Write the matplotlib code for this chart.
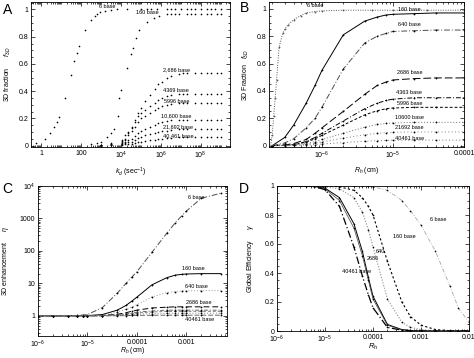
import numpy as np
import matplotlib
matplotlib.use("Agg")
import matplotlib.pyplot as plt
from matplotlib.ticker import LogLocator, MultipleLocator, NullFormatter

plt.rcParams['font.family'] = ['Liberation Sans', 'DejaVu Sans']
plt.rcParams['mathtext.fontset'] = 'custom'
plt.rcParams['mathtext.rm'] = 'Liberation Sans'
plt.rcParams['mathtext.it'] = 'Liberation Sans:italic'

# ---------------- Panel A data (k_d in 1/s, 3D fraction) ----------------
kdA_6 = [0.56, 1.5, 2.8, 4.5, 6.0, 7.6, 14.8, 30, 45, 60, 76, 158, 300, 470, 600, 850,
         1600, 3200, 6300, 2.0e4, 1.0e5, 2.0e5, 3.2e5, 6.3e5, 2.0e6, 3.2e6, 5.0e6, 1.0e7,
         2.0e7, 3.2e7, 5.0e7, 1.0e8, 2.0e8, 3.2e8, 5.0e8, 1.0e9]
fA_6 = [0.02, 0.05, 0.095, 0.14, 0.175, 0.21, 0.35, 0.52, 0.62, 0.68, 0.73, 0.85, 0.92,
        0.955, 0.97, 0.985, 0.99, 0.995, 1.0, 1.0, 1.0, 1.0, 1.0, 1.0, 1.0, 1.0, 1.0, 1.0,
        1.0, 1.0, 1.0, 1.0, 1.0, 1.0, 1.0, 1.0]
kdA_160 = [320, 630, 1000, 2000, 3200, 4700, 7400, 7900, 9500, 2.0e4, 3.0e4, 3.8e4, 5.9e4,
           7.9e4, 2.0e5, 4.5e5, 7.9e5, 2.0e6, 3.2e6, 5.0e6, 7.9e6, 2.0e7, 3.2e7, 5.0e7,
           1.0e8, 2.0e8, 3.2e8, 6.3e8, 1.0e9]
fA_160 = [0.01, 0.02, 0.03, 0.06, 0.09, 0.12, 0.215, 0.35, 0.405, 0.57, 0.67, 0.72, 0.79,
          0.85, 0.905, 0.935, 0.955, 0.965, 0.965, 0.97, 0.97, 0.97, 0.97, 0.97, 0.97,
          0.97, 0.97, 0.97, 0.97]
kdA_big = [1000, 3000, 1.1e4, 1.5e4, 2.3e4, 3.4e4, 5.0e4, 7.4e4, 1.0e5, 1.6e5, 2.8e5,
           5.0e5, 7.4e5, 1.1e6, 2.0e6, 3.2e6, 7.9e6, 1.3e7, 2.0e7, 5.0e7, 1.0e8, 2.0e8,
           3.2e8, 6.3e8, 1.0e9]
fA_2686 = [0.005, 0.02, 0.045, 0.075, 0.1, 0.14, 0.19, 0.24, 0.28, 0.325, 0.37, 0.415,
           0.454, 0.47, 0.5, 0.515, 0.525, 0.53, 0.53, 0.53, 0.53, 0.53, 0.53, 0.53, 0.53]
fA_4369 = [0.004, 0.015, 0.035, 0.05, 0.09, 0.13, 0.17, 0.215, 0.24, 0.264, 0.29, 0.315,
           0.337, 0.35, 0.365, 0.372, 0.378, 0.38, 0.38, 0.38, 0.38, 0.38, 0.38, 0.38, 0.38]
fA_5996 = [0.003, 0.012, 0.03, 0.045, 0.075, 0.11, 0.14, 0.175, 0.2, 0.22, 0.24, 0.26,
           0.28, 0.29, 0.3, 0.305, 0.31, 0.31, 0.31, 0.31, 0.31, 0.31, 0.31, 0.31, 0.31]
fA_10600 = [0.002, 0.008, 0.02, 0.03, 0.04, 0.05, 0.07, 0.09, 0.105, 0.12, 0.14, 0.15,
            0.165, 0.17, 0.18, 0.185, 0.19, 0.19, 0.19, 0.19, 0.19, 0.19, 0.19, 0.19, 0.19]
fA_21692 = [0.001, 0.005, 0.012, 0.018, 0.025, 0.03, 0.04, 0.055, 0.065, 0.075, 0.085,
            0.09, 0.1, 0.105, 0.11, 0.115, 0.12, 0.12, 0.12, 0.12, 0.12, 0.12, 0.12, 0.12, 0.12]
fA_40461 = [0.0, 0.003, 0.006, 0.009, 0.012, 0.015, 0.02, 0.025, 0.03, 0.035, 0.04, 0.042,
            0.048, 0.05, 0.055, 0.058, 0.06, 0.06, 0.06, 0.06, 0.06, 0.06, 0.06, 0.06, 0.06]

# ---------------- Panel B data (R_h in cm, 3D fraction) ----------------
RB_6 = [1.9e-7, 2.0e-7, 2.1e-7, 2.2e-7, 2.3e-7, 2.5e-7, 2.8e-7, 3.0e-7, 3.3e-7, 4e-7,
        5e-7, 6e-7, 8e-7, 1e-6, 2e-6, 5e-6, 1e-5, 3e-5, 1e-4]
fB_6 = [0.0, 0.08, 0.22, 0.35, 0.48, 0.72, 0.82, 0.85, 0.88, 0.92, 0.95, 0.97, 0.98,
        0.985, 0.99, 0.99, 0.99, 0.99, 0.99]
RB = [2e-7, 3e-7, 4e-7, 6e-7, 8e-7, 1e-6, 2e-6, 4e-6, 6e-6, 8e-6, 1e-5, 2e-5, 4e-5, 1e-4]
fB_160 = [0.0, 0.06, 0.15, 0.31, 0.44, 0.55, 0.81, 0.91, 0.94, 0.955, 0.96, 0.965, 0.97, 0.97]
fB_640 = [0.0, 0.02, 0.05, 0.13, 0.2, 0.28, 0.56, 0.75, 0.8, 0.82, 0.835, 0.84, 0.845, 0.845]
fB_2686 = [0.0, 0.005, 0.015, 0.045, 0.09, 0.13, 0.25, 0.375, 0.44, 0.465, 0.48, 0.49, 0.495, 0.495]
fB_4363 = [0.0, 0.003, 0.008, 0.03, 0.06, 0.09, 0.18, 0.27, 0.31, 0.33, 0.34, 0.35, 0.35, 0.35]
fB_5996 = [0.0, 0.003, 0.007, 0.025, 0.05, 0.075, 0.15, 0.225, 0.255, 0.27, 0.275, 0.28, 0.28, 0.28]
fB_10600 = [0.0, 0.002, 0.005, 0.015, 0.03, 0.045, 0.09, 0.135, 0.155, 0.162, 0.166, 0.17, 0.17, 0.17]
fB_21692 = [0.0, 0.001, 0.003, 0.01, 0.018, 0.027, 0.055, 0.08, 0.09, 0.095, 0.098, 0.1, 0.1, 0.1]
fB_40461 = [0.0, 0.0, 0.001, 0.004, 0.008, 0.012, 0.022, 0.032, 0.036, 0.038, 0.04, 0.04, 0.04, 0.04]

# ---------------- Panel C data (R_h in cm, 3D enhancement) ----------------
RC = [1e-6, 2e-6, 4e-6, 6e-6, 8e-6, 1e-5, 2e-5, 4e-5, 6e-5, 8e-5, 1e-4, 2e-4, 4e-4, 6e-4,
      8e-4, 1e-3, 2e-3, 5e-3]
eC_6 = [1, 1, 1.01, 1.03, 1.06, 1.1, 1.8, 5, 10, 16, 23, 90, 350, 750, 1200, 1700, 4200, 6000]
eC_160 = [1, 1, 1, 1, 1.01, 1.02, 1.1, 1.5, 2.1, 2.9, 3.8, 9, 15, 18, 19, 19.5, 20, 20]
eC_640 = [1, 1, 1, 1, 1, 1.01, 1.05, 1.3, 1.6, 1.9, 2.2, 3.8, 5.2, 5.6, 5.8, 5.9, 6, 6]
eC_2686 = [1, 1, 1, 1, 1, 1, 1.03, 1.12, 1.25, 1.4, 1.5, 1.75, 1.85, 1.9, 1.9, 1.9, 1.9, 1.9]
eC_4363 = [1, 1, 1, 1, 1, 1, 1.02, 1.08, 1.15, 1.22, 1.3, 1.42, 1.5, 1.5, 1.5, 1.5, 1.5, 1.5]
eC_5996 = [1, 1, 1, 1, 1, 1, 1.02, 1.06, 1.12, 1.18, 1.23, 1.32, 1.37, 1.38, 1.38, 1.38, 1.38, 1.38]
eC_10600 = [1, 1, 1, 1, 1, 1, 1.01, 1.04, 1.07, 1.1, 1.13, 1.18, 1.2, 1.21, 1.21, 1.21, 1.21, 1.21]
eC_40461 = [1, 1, 1, 1, 1, 1, 1.0, 1.01, 1.02, 1.03, 1.035, 1.045, 1.05, 1.05, 1.05, 1.05, 1.05, 1.05]

# ---------------- Panel D data (R_h, global efficiency) ----------------
RD = [1e-6, 2e-6, 4e-6, 6e-6, 1e-5, 2e-5, 4e-5, 6e-5, 8e-5, 1e-4, 2e-4, 4e-4, 6e-4, 1e-3,
      2e-3, 4e-3, 6e-3, 1e-2]
gD_6 = [1, 1, 1, 1, 1, 1, 1, 1, 0.998, 0.995, 0.97, 0.9, 0.83, 0.73, 0.55, 0.31, 0.16, 0.06]
gD_160 = [1, 1, 1, 1, 1, 0.995, 0.97, 0.92, 0.86, 0.8, 0.48, 0.2, 0.1, 0.04, 0.01, 0.002, 0, 0]
gD_640 = [1, 1, 1, 1, 0.995, 0.98, 0.92, 0.82, 0.7, 0.58, 0.22, 0.06, 0.025, 0.01, 0.002, 0, 0, 0]
gD_2686 = [1, 1, 1, 0.998, 0.985, 0.92, 0.74, 0.55, 0.37, 0.24, 0.045, 0.01, 0.004, 0.001, 0, 0, 0, 0]
gD_4363 = [1, 1, 1, 0.997, 0.98, 0.9, 0.71, 0.52, 0.35, 0.22, 0.04, 0.008, 0.003, 0.001, 0, 0, 0, 0]
gD_40461 = [1, 1, 0.999, 0.995, 0.975, 0.86, 0.58, 0.38, 0.25, 0.16, 0.025, 0.005, 0.002, 0, 0, 0, 0, 0]

fig = plt.figure(figsize=(4.74, 3.58), dpi=100)
W, H = 474.0, 358.0


def add_ax(l, r, t, b):
    return fig.add_axes([l / W, (H - b) / H, (r - l) / W, (b - t) / H])


axA = add_ax(31, 230, 2, 147)
axB = add_ax(269, 464, 2, 147)
axC = add_ax(38, 227, 186, 336)
axD = add_ax(277, 469, 186, 331)

TF = 5.0
LF = 4.0


def style(ax):
    ax.tick_params(which='both', direction='in', top=True, right=True, labelsize=TF,
                   width=0.5, pad=2)
    ax.tick_params(which='major', length=3)
    ax.tick_params(which='minor', length=1.5)
    for s in ax.spines.values():
        s.set_linewidth(0.6)


# ----- A -----
axA.set_xscale('log')
for x, y in [(kdA_6, fA_6), (kdA_160, fA_160), (kdA_big, fA_2686), (kdA_big, fA_4369),
             (kdA_big, fA_5996), (kdA_big, fA_10600), (kdA_big, fA_21692), (kdA_big, fA_40461)]:
    axA.plot(x, y, ls='none', marker='o', ms=1.2, color='black', mew=0)
axA.set_xlim(0.3, 3e9)
axA.set_ylim(-0.01, 1.055)
axA.set_xticks([1, 100, 1e4, 1e6, 1e8], ['1', '100', '$10^4$', '$10^6$', '$10^8$'])
axA.xaxis.set_minor_locator(LogLocator(base=10, subs=np.arange(1, 10), numticks=100))
axA.xaxis.set_minor_formatter(NullFormatter())
axA.set_yticks([0, 0.2, 0.4, 0.6, 0.8, 1], ['0', '0.2', '0.4', '0.6', '0.8', '1'])
axA.yaxis.set_minor_locator(MultipleLocator(0.05))
axA.set_xlabel('$k_d$ (sec$^{-1}$)', fontsize=TF, labelpad=3)
axA.set_ylabel('3D fraction      $f_{3D}$', fontsize=TF, labelpad=4)
style(axA)
for txt, x, y in [('6 base', 2000, 1.02), ('160 base', 2.2e5, 0.975), ('2,686 base', 6.0e6, 0.56),
                  ('4369 base', 6.0e6, 0.405), ('5996 base', 6.0e6, 0.325),
                  ('10,600 base', 6.0e6, 0.22), ('21,692 base', 7.0e6, 0.135),
                  ('40,461 base', 8.0e6, 0.07)]:
    axA.text(x, y, txt, fontsize=LF, ha='center', va='center')

# ----- B -----
axB.set_xscale('log')
axB.plot(RB_6, fB_6, ls=(0, (1, 1.5)), lw=0.7, color='0.35', marker='o', ms=1.3, mew=0)
bstyles = [
    (fB_160, '-', 'black', '160 base', 0.965 + 0.03),
    (fB_640, (0, (6, 2, 1, 2)), '0.3', '640 base', 0.845 + 0.04),
    (fB_2686, (0, (8, 3)), 'black', '2686 base', 0.495 + 0.04),
    (fB_4363, (0, (5, 2, 1, 2)), 'black', '4363 base', 0.35 + 0.035),
    (fB_5996, (0, (3, 2)), 'black', '5996 base', 0.28 + 0.03),
    (fB_10600, (0, (1, 2)), '0.45', '10600 base', 0.17 + 0.035),
    (fB_21692, (0, (1, 2.5)), '0.5', '21692 base', 0.1 + 0.035),
    (fB_40461, (0, (1, 2.5)), '0.45', '40461 base', 0.04 + 0.01),
]
for y, ls, c, lab, ly in bstyles:
    axB.plot(RB, y, ls=ls, lw=0.7, color=c, marker='o', ms=1.3, mew=0, mfc='black')
    axB.text(1.7e-5, ly, lab, fontsize=LF, ha='center', va='center')
axB.text(8e-7, 1.025, '6 base', fontsize=LF, ha='center', va='center')
axB.set_xlim(1.8e-7, 1e-4)
axB.set_ylim(-0.01, 1.05)
axB.set_xticks([1e-6, 1e-5, 1e-4], ['$10^{-6}$', '$10^{-5}$', '0.0001'])
axB.xaxis.set_minor_locator(LogLocator(base=10, subs=np.arange(1, 10), numticks=100))
axB.xaxis.set_minor_formatter(NullFormatter())
axB.set_yticks([0, 0.2, 0.4, 0.6, 0.8, 1], ['0', '0.2', '0.4', '0.6', '0.8', '1'])
axB.yaxis.set_minor_locator(MultipleLocator(0.05))
axB.set_xlabel('$R_h$ (cm)', fontsize=TF, labelpad=3)
axB.set_ylabel('3D Fraction   $f_{3D}$', fontsize=TF, labelpad=4)
style(axB)

# ----- C -----
axC.set_xscale('log')
axC.set_yscale('log')
cstyles = [
    (eC_6, (0, (6, 2, 1, 2)), '0.3'),
    (eC_160, '-', 'black'),
    (eC_640, (0, (1, 2)), '0.6'),
    (eC_2686, (0, (6, 3)), 'black'),
    (eC_4363, (0, (4, 2, 1, 2)), '0.4'),
    (eC_5996, (0, (3, 2)), '0.5'),
    (eC_10600, (0, (1, 2)), '0.5'),
    (eC_40461, (0, (5, 2)), '0.4'),
]
for y, ls, c in cstyles:
    axC.plot(RC, y, ls=ls, lw=0.7, color=c, marker='o', ms=1.3, mew=0, mfc='black')
for txt, x, y in [('6 base', 1.6e-3, 4300), ('160 base', 1.4e-3, 29), ('640 base', 1.6e-3, 8),
                  ('2686 base', 1.8e-3, 2.5), ('40461 base', 1.8e-3, 0.8)]:
    axC.text(x, y, txt, fontsize=LF, ha='center', va='center')
axC.set_xlim(1e-6, 6.6e-3)
axC.set_ylim(0.24, 1e4)
axC.set_xticks([1e-6, 1e-5, 1e-4, 1e-3], ['$10^{-6}$', '$10^{-5}$', '0.0001', '0.001'])
axC.set_yticks([1, 10, 100, 1000, 1e4], ['1', '10', '100', '1000', '$10^4$'])
for axis in (axC.xaxis, axC.yaxis):
    axis.set_minor_locator(LogLocator(base=10, subs=np.arange(1, 10), numticks=100))
    axis.set_minor_formatter(NullFormatter())
axC.set_xlabel('$R_h$ (cm)', fontsize=TF)
axC.xaxis.set_label_coords(0.5, -0.058)
axC.set_ylabel('3D enhancement      $\\eta$', fontsize=TF, labelpad=6)
style(axC)

# ----- D -----
axD.set_xscale('log')
dstyles = [
    (gD_6, (0, (5, 2, 1, 2)), '0.65', 0.6),
    (gD_160, (0, (2, 2)), 'black', 0.8),
    (gD_640, (0, (1, 1.5)), '0.55', 0.8),
    (gD_2686, '-', 'black', 0.7),
    (gD_4363, '-', '0.25', 0.5),
    (gD_40461, (0, (6, 2, 1, 2)), 'black', 0.9),
]
for y, ls, c, lw in dstyles:
    axD.plot(RD, y, ls=ls, lw=lw, color=c, marker='o', ms=1.2, mew=0, mfc='black')
for txt, x, y in [('6 base', 2.3e-3, 0.77), ('160 base', 4.5e-4, 0.65), ('640', 1.45e-4, 0.55),
                  ('2686', 1.0e-4, 0.5), ('40461 base', 4.5e-5, 0.41)]:
    axD.text(x, y, txt, fontsize=LF, ha='center', va='center')
axD.set_xlim(1e-6, 1e-2)
axD.set_ylim(0, 1)
axD.set_xticks([1e-6, 1e-5, 1e-4, 1e-3, 1e-2],
               ['$10^{-6}$', '$10^{-5}$', '0.0001', '0.001', '0.01'])
axD.xaxis.set_minor_locator(LogLocator(base=10, subs=np.arange(1, 10), numticks=100))
axD.xaxis.set_minor_formatter(NullFormatter())
axD.set_yticks([0, 0.2, 0.4, 0.6, 0.8, 1], ['0', '0.2', '0.4', '0.6', '0.8', '1'])
axD.yaxis.set_minor_locator(MultipleLocator(0.05))
axD.set_xlabel('$R_h$', fontsize=TF + 0.5)
axD.xaxis.set_label_coords(0.5, -0.075)
axD.set_ylabel('Global Efficiency      $\\gamma$', fontsize=TF, labelpad=6)
style(axD)

for lab, x, y in [('A', 8, 10), ('B', 244, 8), ('C', 7, 189), ('D', 244, 189)]:
    fig.text(x / W, 1 - y / H, lab, fontsize=10, ha='center', va='center')

fig.savefig('out.png', dpi=100)
